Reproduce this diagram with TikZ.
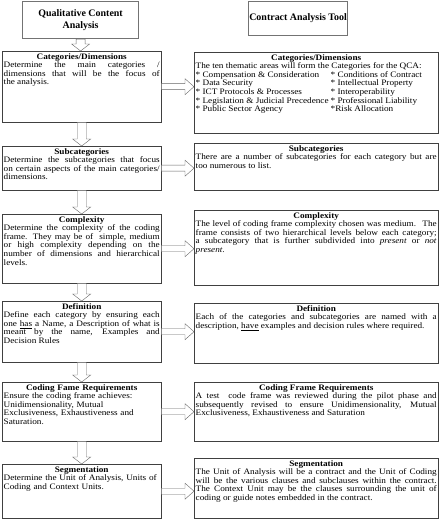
\documentclass[tikz,border=0pt]{standalone}
\usepackage{fontspec}
\setmainfont{Liberation Serif}
\newfontfamily\bodyfont{Liberation Serif}[FakeStretch=1.1]
\usepackage{tikz}
\usetikzlibrary{positioning, calc, shadows}

\hyphenpenalty=10000
\exhyphenpenalty=10000
\newcommand{\boxhead}[1]{{\centering\bfseries #1\par}}

\begin{document}
\begin{tikzpicture}[
  x=1bp, y=-1bp,
  font=\bodyfont\fontsize{8.4}{8.6}\selectfont,
  title/.style={draw=black!55, line width=1.2pt, align=center, anchor=north west,
                inner sep=0pt, font=\rmfamily\fontsize{10}{12.5}\selectfont\bfseries},
  lbox/.style={draw=black!75, fill=white, anchor=north west, align=justify,
               inner sep=1.5bp, text width=156bp, text height=6.5bp, text depth=#1,
               drop shadow={shadow xshift=1bp, shadow yshift=-1bp,
                            fill=black!40, opacity=1}},
  rbox/.style={lbox=#1, text width=241bp},
  harr/.style={draw=black!60, fill=white, to path={
    ($(\tikztostart)+(0,3bp)$) -- ($(\tikztotarget)+(-9bp,3bp)$)
    -- ($(\tikztotarget)+(-9bp,8bp)$) -- (\tikztotarget)
    -- ($(\tikztotarget)+(-9bp,-8bp)$) -- ($(\tikztotarget)+(-9bp,-3bp)$)
    -- ($(\tikztostart)+(0,-3bp)$) -- cycle}},
  varr/.style={draw=black!60, fill=white, to path={
    ($(\tikztostart)+(-4.5bp,0)$) -- ($(\tikztotarget)+(-4.5bp,7bp)$)
    -- ($(\tikztotarget)+(-9bp,7bp)$) -- (\tikztotarget)
    -- ($(\tikztotarget)+(9bp,7bp)$) -- ($(\tikztotarget)+(4.5bp,7bp)$)
    -- ($(\tikztostart)+(4.5bp,0)$) -- cycle}}
]
\useasboundingbox (0,0) rectangle (440,520);

% column heads
\node[title, minimum width=116bp, minimum height=37bp] (qca) at (22,1)
  {Qualitative Content\\Analysis};
\node[title, minimum width=99bp, minimum height=34bp] (cat-tool) at (248,1)
  {Contract Analysis Tool};

% left column: qualitative content analysis
\node[lbox=61.5bp] (cat) at (2,51) {\boxhead{Categories/Dimensions}
  Determine the main categories /\linebreak dimensions that will be the focus of the
  analysis.};
\node[lbox=34.5bp] (sub) at (2,146) {\boxhead{Subcategories}
  Determine the subcategories that focus\linebreak on certain aspects of the main
  categories/ dimensions.};
\node[lbox=59.5bp] (cplx) at (2,214) {\boxhead{Complexity}
  Determine the complexity of the coding\linebreak frame. They may be of \ simple,
  medium\linebreak or high complexity depending on the\linebreak number of dimensions
  and hierarchical\linebreak levels.};
\node[lbox=51.5bp] (defn) at (2,301) {\boxhead{Definition}
  Define each category by ensuring each\linebreak one \underline{has} a Name, a
  Description of what is\linebreak meant by the name, Examples and\linebreak Decision
  Rules};
\node[lbox=49.5bp, align=left] (req) at (2,382) {\boxhead{Coding Fame Requirements}
  Ensure the coding frame achieves:\\ Unidimensionality, Mutual\\ Exclusiveness, Exhaustiveness and\\ Saturation.};
\node[lbox=44.5bp, align=left] (seg) at (2,464) {\boxhead{Segmentation}
  Determine the Unit of Analysis, Units of\\ Coding and Context Units.};

% right column: contract analysis tool
\node[rbox=71.5bp] (cat-r) at (194,52) {\boxhead{Categories/Dimensions}
  The ten thematic areas will form the Categories for the QCA:\\
  \makebox[135bp][l]{* Compensation \& Consideration}* Conditions of Contract\\
  \makebox[135bp][l]{* Data Security}* Intellectual Property\\
  \makebox[135bp][l]{* ICT Protocols \& Processes}* Interoperability\\
  \makebox[135bp][l]{* Legislation \& Judicial Precedence}* Professional Liability\\
  \makebox[135bp][l]{* Public Sector Agency}*Risk Allocation};
\node[rbox=37.5bp] (sub-r) at (194,143) {\boxhead{Subcategories}
  There are a number of subcategories for each category but are\linebreak too numerous
  to list.};
\node[rbox=65.5bp] (cplx-r) at (194,210) {\boxhead{Complexity}
  The level of coding frame complexity chosen was medium. \ The\linebreak frame consists
  of two hierarchical levels below each category;\linebreak a subcategory that is further
  subdivided into \emph{present} or \emph{not}\linebreak \emph{present}.};
\node[rbox=50.5bp] (defn-r) at (194,303) {\boxhead{Definition}
  Each of the categories and subcategories are named with a\linebreak description,
  \underline{have} examples and decision rules where required.};
\node[rbox=49.5bp] (req-r) at (194,382) {\boxhead{Coding Frame Requirements}
  A test \ code frame was reviewed during the pilot phase and\linebreak subsequently
  revised to ensure Unidimensionality, Mutual\linebreak Exclusiveness, Exhaustiveness
  and Saturation};
\node[rbox=50.5bp] (seg-r) at (194,458) {\boxhead{Segmentation}
  The Unit of Analysis will be a contract and the Unit of Coding\linebreak will be the
  various clauses and subclauses within the contract.\linebreak The Context Unit may be
  the clauses surrounding the unit of\linebreak coding or guide notes embedded in the
  contract.};

% down arrows
\draw[varr] (qca.south) to (qca.south |- cat.north);
\draw[varr] (cat.south) to (sub.north);
\draw[varr] (sub.south) to (cplx.north);
\draw[varr] (cplx.south) to (defn.north);
\draw[varr] (defn.south) to (req.north);
\draw[varr] (req.south) to (seg.north);

% across arrows
\draw[harr] (cat.east) to (cat.east -| cat-r.west);
\draw[harr] (sub.east) to (sub.east -| sub-r.west);
\draw[harr] (cplx.east) to (cplx.east -| cplx-r.west);
\draw[harr] (defn.east) to (defn.east -| defn-r.west);
\draw[harr] (req.east) to (req.east -| req-r.west);
\draw[harr] (seg.east) to (seg.east -| seg-r.west);
\end{tikzpicture}
\end{document}
